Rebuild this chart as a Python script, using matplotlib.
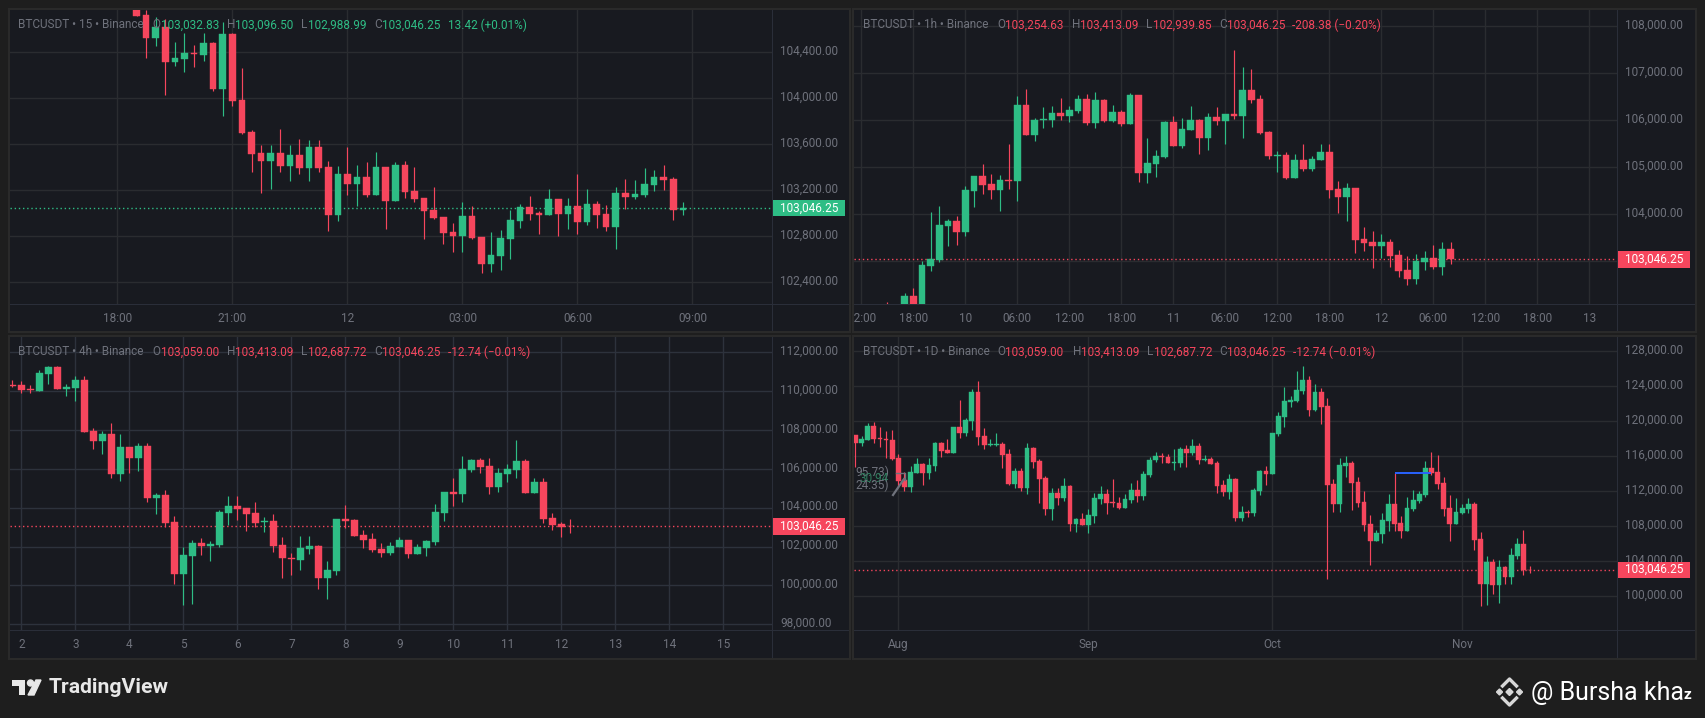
import numpy as np
import matplotlib
matplotlib.use("Agg")
import matplotlib.pyplot as plt
from matplotlib.patches import Rectangle, Polygon, Circle
from matplotlib.transforms import IdentityTransform, Bbox, Affine2D

W, H = 1705, 718
plt.rcParams['font.family'] = ['Roboto', 'DejaVu Sans']

BG = '#1e1e1e'
PANE = '#181a20'
UP = '#2ebd85'
DOWN = '#f6465d'
TXT = '#6f727c'

LAST = 103046.25

#--------------------------------------DATA----------------------------------------------------#

# 15 minute candles, first one is 10 bars before the 21:00 line
m15_start = -10
m15_open = [104830,104725,104525,104620,104316,104342,104394,104377,104481,104081,104559,103985,103707,103524,103455,103524,103412,103507,103394,103577,103403,102985,103342,103255,103316,103159,103403,103107,103420,103194,103133,103029,102968,102838,102803,102977,102794,102559,102629,102777,102933,103055,103003,102985,103125,102994,103064,102925,103081,102994,102881,103177,103142,103159,103246,103316,103299,103032.83]
m15_high = [104860,104771,104707,104690,104490,104568,104464,104568,104490,104664,104565,104264,103725,103594,103594,103733,103594,103646,103638,103638,103455,103412,103577,103420,103446,103533,103403,103446,103455,103403,103133,103229,102968,102916,103099,103064,102794,102838,102855,103029,103081,103151,103020,103212,103125,103133,103342,103212,103107,103072,103229,103299,103290,103394,103377,103420,103316,103096.5]
m15_low = [104719,104351,104455,104029,104281,104229,104272,104325,104064,103846,103933,103690,103359,103177,103211,103359,103281,103342,103281,103359,102846,102933,103159,103064,103142,103159,102864,103107,103133,103098,102777,102951,102733,102664,102664,102777,102481,102490,102507,102603,102872,102942,102820,102985,102803,102864,102820,102898,102872,102846,102690,103038,103125,103142,103194,103203,102942,102988.99]
m15_close = [104719,104525,104620,104316,104351,104394,104388,104481,104081,104559,103977,103698,103516,103455,103524,103412,103507,103394,103577,103394,102985,103342,103255,103316,103159,103403,103107,103420,103185,103124,103020,102959,102829,102803,102977,102785,102559,102638,102785,102942,103055,102994,102985,103125,102994,103064,102925,103081,102985,102881,103177,103142,103168,103255,103316,103290,103029,103046.25]
m15_ticks = [-12, 0, 12, 24, 36, 48]
m15_labels = ['18:00', '21:00', '12', '03:00', '06:00', '09:00']
m15_prices = [102400, 102800, 103200, 103600, 104000, 104400]

# 1 hour candles, index 0 is 18:00 on the 9th
h1_start = -3
h1_open = [102000,101800,101900,102262,101950,102901,103028,103752,103858,103624,104496,104815,104645,104518,104730,104709,106326,105688,106007,106007,106156,106092,106198,106454,105943,106432,105986,106177,105922,106539,104879,105071,105220,105964,105454,105794,106007,105624,106071,105986,106135,106092,106645,106454,105752,105241,105262,104773,105156,104964,105156,105326,104539,104369,104560,103475,103411,103326,103411,103135,102816,102624,102986,103071,102879,103254.63]
h1_high = [102135,102000,102326,102433,103007,104050,104177,103901,103964,104603,104815,105071,104858,104837,105496,106518,106666,106050,106283,106305,106475,106305,106539,106560,106603,106454,106326,106220,106581,106539,105624,105369,105986,106092,106050,106305,106028,106156,106283,106135,107496,107135,107092,106539,105773,105347,105326,105284,105496,105241,105496,105496,104709,104667,104560,103730,103645,103581,103475,103241,103113,103156,103220,103347,103411,103413.09]
h1_low = [101800,101700,101800,101800,101800,102794,102986,103326,103347,103539,104156,104433,104326,104071,104539,104284,105688,105560,105837,105858,106007,105964,106156,105901,105837,105964,105964,105879,105922,104688,104667,104794,105198,105454,105411,105794,105284,105369,105901,105496,106028,105624,106369,105709,105177,104901,104752,104773,104922,104922,105156,104347,104028,103858,103177,103220,102858,103071,102879,102667,102496,102518,102816,102837,102709,102939.85]
h1_close = [101900,101900,102262,101950,102922,103050,103773,103858,103624,104518,104815,104624,104518,104730,104709,106326,105688,106007,106028,106156,106092,106220,106454,105943,106432,105986,106177,105922,106539,104879,105092,105241,105964,105454,105815,106007,105624,106071,105986,106135,106092,106645,106432,105730,105241,105262,104773,105156,104964,105177,105326,104518,104369,104560,103454,103390,103326,103411,103113,102794,102624,103007,103071,102879,103262,103046.25]
h1_ticks = [-6, 0, 6, 12, 18, 24, 30, 36, 42, 48, 54, 60, 66, 72, 78]
h1_labels = ['12:00', '18:00', '10', '06:00', '12:00', '18:00', '11', '06:00', '12:00', '18:00', '12', '06:00', '12:00', '18:00', '13']
h1_prices = [103000, 104000, 105000, 106000, 107000, 108000]

# 4 hour candles, index 0 is the 2nd
h4_start = -1
h4_open = [110324,110324,110119,110017,110888,111247,110119,110170,110581,107965,107453,107811,105760,107145,106581,107196,104478,104632,103247,100581,101504,102170,102017,102068,103709,104068,103965,103709,103247,103298,102068,101401,101299,101863,102017,100376,100735,103402,103350,102581,102376,101863,101658,101966,102325,101607,101915,102222,103710,104786,104684,105966,106479,106171,105043,105761,105966,106428,104735,105299,103453,103145,103059]
h4_high = [110581,110529,110324,111094,111280,111299,110376,110786,110786,108119,107965,108376,107811,107145,107350,107350,104735,104888,103555,101965,102324,102427,102273,103863,104581,104581,103965,104273,103504,103658,102478,101658,102530,102530,102068,101248,103402,104120,103402,102838,102684,102171,102222,102479,102325,102120,102325,104171,104786,105504,106684,106530,106581,106581,106069,106274,107504,106530,105504,105504,103710,103248,103413.09]
h4_low = [110222,109914,109914,110017,110376,110119,109760,109504,107914,107042,106786,105555,105350,105811,105914,104273,103658,102991,100068,98991,99042,101555,101248,101965,103094,103350,102786,102991,102735,101709,100376,100530,100786,101607,99812,99299,100530,102940,102530,101915,101710,101453,101556,101966,101402,101607,101504,102068,103299,104068,104274,105863,105812,104684,104786,105299,105504,104735,104735,103197,102838,102479,102687.72]
h4_close = [110273,110068,110068,110940,111247,110119,110222,110581,107914,107453,107811,105760,107145,106581,107196,104478,104632,103196,100581,101555,102170,102017,102119,103760,104068,103914,103658,103196,103298,102017,101401,101350,101915,102017,100376,100786,103402,103299,102530,102325,101812,101658,102017,102325,101607,101966,102274,103761,104786,104684,106017,106479,106120,105043,105812,106017,106428,104735,105299,103402,103094,102992,103046.25]
h4_ticks = [0, 6, 12, 18, 24, 30, 36, 42, 48, 54, 60, 66, 72, 78]
h4_labels = ['2', '3', '4', '5', '6', '7', '8', '9', '10', '11', '12', '13', '14', '15']
h4_prices = [98000, 100000, 102000, 104000, 106000, 108000, 110000, 112000]

# daily candles, index 0 is 1 Aug
d1_start = -7
d1_open = [118439,117524,117867,119467,118096,117981,117867,115810,113296,112495,114096,115124,114096,114895,117524,116724,116381,119353,118667,120038,123353,118324,117296,117296,117410,116267,112839,114324,112381,116953,115467,113524,109981,111810,111238,112610,108267,108839,108153,109181,111124,111696,110781,110667,110096,111010,112153,111467,113867,115581,116039,115924,115238,115238,116839,116382,117181,115582,115696,115238,112724,111924,113410,108953,109639,109524,112039,114324,113982,118553,120496,122210,122324,123467,124724,121296,123353,121753,112839,110553,114896,115238,113067,110781,108267,106324,107125,108610,110553,108382,107467,109982,110896,111581,114667,114210,112953,110096,108267,109524,109982,110553,106553,101410,103924,101296,103353,102210,104610,105981,103059]
d1_high = [118439,118324,119810,119924,119353,118896,119010,116267,114210,114895,115810,115238,115810,117638,117638,117981,119353,122438,120381,123696,124610,119238,117981,118667,117638,116838,114667,114667,117524,117067,115696,113753,112381,112381,113524,112724,108953,109524,109981,111810,112610,112267,113410,111353,111696,112953,113296,114324,115900,116500,116382,116267,116839,117067,117296,117982,117524,116153,115924,115467,113296,113982,113524,110324,109867,112382,114439,114896,118667,121067,123924,122896,125753,126324,125181,124267,123810,122667,113410,115810,116039,115467,113639,112039,109296,107581,109524,111696,114096,109182,111353,112153,112039,115467,116496,116153,113639,111581,111239,110553,111239,110781,107353,104610,104267,104153,103467,105524,106667,107581,103413.09]
d1_low = [114819,117181,117867,117524,117067,115810,115581,112610,112038,111924,114096,112724,113410,114324,115924,116381,116381,118096,118324,119010,117296,116838,117181,117181,114667,112724,112381,112038,111696,114667,110667,109295,108724,110439,110896,107467,107353,108153,107238,108381,110553,109410,110210,109981,110096,110667,110781,111010,113600,115300,115238,115238,114439,114781,114781,116153,115124,115467,115124,111810,111467,111124,108610,108610,109067,109182,111581,112724,113982,118324,119353,121639,122210,123124,120610,121181,119696,101981,109639,109639,113639,109867,110210,107467,103582,106324,106096,107467,107467,106667,107467,109753,110667,111353,113867,112267,109182,106324,108267,109410,109524,105296,98896,99010,100267,99239,101410,101410,104267,102439,102687.72]
d1_close = [117524,117981,119467,117981,117981,117867,115696,113181,112495,114210,115124,114096,115010,117524,116610,116381,119353,118667,120153,123353,118210,117296,117410,117410,116153,112839,114324,112381,116953,115353,113410,109981,111810,111238,112610,108267,108839,108153,109295,111238,111696,110667,110667,110096,111124,112153,111467,113981,115581,116050,115924,115238,115353,116839,116382,117181,115582,115696,115124,112610,111924,113410,108953,109639,109524,112153,114324,113982,118667,120610,122324,122439,123581,124724,121296,123353,121639,112724,110553,115010,115238,112953,110667,108153,106324,107239,108724,110553,108267,107467,110096,111010,111696,114667,114096,112839,109982,108267,109639,110096,110553,106439,101410,103924,101296,103353,102210,104724,105981,103010,103046.25]
d1_ticks = [0, 31, 61, 92]
d1_labels = ['Aug', 'Sep', 'Oct', 'Nov']
d1_prices = [100000, 104000, 108000, 112000, 116000, 120000, 124000, 128000]
# blue horizontal drawing on the daily pane
ray_days = [81, 87]
ray_price = [114096, 114096]

#--------------------------------------HELPERS-------------------------------------------------#

fig = plt.figure(figsize=(W / 100, H / 100), dpi=100, facecolor=BG)


def rect(x0, y0, x1, y1, color, z=-1):
    fig.add_artist(Rectangle((x0, H - y1), x1 - x0, y1 - y0, transform=IdentityTransform(),
                             facecolor=color, edgecolor='none', zorder=z))


def put(x, y, s, color=TXT, size=8.5, ha='left', z=8, **kw):
    return fig.text(x / W, 1 - y / H, s, color=color, fontsize=size, ha=ha, va='center', zorder=z, **kw)


def pane(left, top, split, base, right, bottom, xlim, ylim, prices, ticks, labels, grid, last_color,
         opens, highs, lows, closes, start, body_px):
    rect(left - 2, top - 2, right + 2, bottom + 2, '#2a2a2a')
    rect(left, top, right, bottom, PANE)
    rect(left, base, right, base + 1, '#2a2e39', z=1)
    rect(split, top, split + 1, bottom, '#2a2e39', z=1)

    ax = fig.add_axes([left / W, 1 - base / H, (split - left) / W, (base - top) / H])
    ax.set_facecolor(PANE)
    for s in ax.spines.values():
        s.set_visible(False)
    ax.set_xlim(xlim)
    ax.set_ylim(ylim)
    ax.grid(True, color=grid, lw=1)
    ax.set_axisbelow(True)

    ax.set_yticks(prices)
    # the label that would sit under the price tag is hidden, as on the real chart
    ytop_last = H - ax.transData.transform((0, LAST))[1]
    ylabels = []
    for p in prices:
        ypx = H - ax.transData.transform((0, p))[1]
        ylabels.append('' if abs(ypx - ytop_last) < 3 else f'{p:,.2f}')
    ax.set_yticklabels(ylabels)
    ax.yaxis.tick_right()
    ax.tick_params(axis='y', length=0, labelcolor=TXT, labelsize=8.5, pad=6)
    for lbl in ax.get_yticklabels():
        lbl.set_transform(lbl.get_transform() + Affine2D().translate(0, 2.5))
    ax.set_xticks(ticks)
    ax.set_xticklabels(labels)
    ax.tick_params(axis='x', length=0, labelcolor=TXT, labelsize=8.5, pad=6)
    for lbl in ax.get_xticklabels():
        lbl.set_clip_box(Bbox.from_extents(left, 0, right, H))
        lbl.set_clip_on(True)

    x = np.arange(len(opens)) + start
    o, h, l, c = map(np.array, (opens, highs, lows, closes))
    colors = np.where(c >= o, UP, DOWN)
    unit = (split - left) / (xlim[1] - xlim[0])
    ax.vlines(x, l, h, colors=colors, lw=0.85, zorder=3)
    ax.bar(x, np.abs(c - o), bottom=np.minimum(o, c), width=body_px / unit, color=colors,
           edgecolor=colors, linewidth=0.3, zorder=4)
    ax.axhline(LAST, color=last_color, lw=1, ls=(0, (1, 2)), zorder=2)

    # last price tag
    rect(split + 1, ytop_last - 8, split + 73, ytop_last + 8.5, last_color, z=6)
    put(split + 8, ytop_last, f'{LAST:,.2f}', color='white', z=7)
    return ax


def legend(x0, y, name, xs, vals, change, color):
    put(x0, y, name)
    for xv, letter, gap, v in zip(xs, 'OHLC', (8.5, 8.3, 7.3, 7.8), vals):
        put(xv, y, letter)
        put(xv + gap, y, v, color=color)
    put(xs[3] + 73.5, y, change, color=color)


#--------------------------------------PANES---------------------------------------------------#

pane(10, 10, 772, 304, 849, 331, (-23.2, 56.3), (102211, 104768), m15_prices, m15_ticks, m15_labels,
     '#2a2c30', UP, m15_open, m15_high, m15_low, m15_close, m15_start, 6.6)
legend(18, 25, 'BTCUSDT • 15 • Binance', (152, 226.6, 301, 374),
       ('103,032.83', '103,096.50', '102,988.99', '103,046.25'), '13.42 (+0.01%)', UP)

pane(854, 10, 1617, 304, 1695, 331, (-6.84, 81.2), (102091, 108347), h1_prices, h1_ticks, h1_labels,
     '#2a2c30', DOWN, h1_open, h1_high, h1_low, h1_close, h1_start, 6.6)
legend(863, 25, 'BTCUSDT • 1h • Binance', (997, 1072, 1146, 1219),
       ('103,254.63', '103,413.09', '102,939.85', '103,046.25'), '-208.38 (−0.20%)', DOWN)

pane(10, 337, 772, 630, 849, 658, (-1.26, 83.4), (97708, 112785), h4_prices, h4_ticks, h4_labels,
     '#2d323c', DOWN, h4_open, h4_high, h4_low, h4_close, h4_start, 6.6)
legend(18, 352, 'BTCUSDT • 4h • Binance', (152, 226.6, 301, 374),
       ('103,059.00', '103,413.09', '102,687.72', '103,046.25'), '-12.74 (−0.01%)', DOWN)

ax4 = pane(854, 337, 1617, 630, 1695, 658, (-7.23, 117.27), (96148, 129635), d1_prices, d1_ticks, d1_labels,
           '#2a2c30', DOWN, d1_open, d1_high, d1_low, d1_close, d1_start, 4.8)
ax4.plot(ray_days, ray_price, color='#2962ff', lw=1.4, zorder=5, solid_capstyle='butt')
legend(863, 352, 'BTCUSDT • 1D • Binance', (997, 1072.5, 1146.6, 1219.7),
       ('103,059.00', '103,413.09', '102,687.72', '103,046.25'), '-12.74 (−0.01%)', DOWN)

# faded leftovers of a drawing near the left edge of the daily pane
put(855, 472, '95.73)', size=8.5)
put(859, 479, '30:94', color='#2f7d5e', size=8.5)
put(855, 485, '24:35)', size=8.5)
fig.add_artist(plt.Line2D([893, 904], [H - 495, H - 479], transform=IdentityTransform(),
                          color='#6f727c', lw=1.6, zorder=7))
fig.add_artist(plt.Line2D([896, 905, 905], [H - 473, H - 473, H - 480], transform=IdentityTransform(),
                          color='#6f727c', lw=1.0, zorder=7))

#--------------------------------------BRANDING------------------------------------------------#

rect(12, 680, 25, 686, '#e8e8e8', z=3)
rect(19, 680, 25, 695, '#e8e8e8', z=3)
fig.add_artist(Circle((30.5, H - 683), 3, transform=IdentityTransform(), color='#e8e8e8', zorder=3))
fig.add_artist(Polygon([(34, H - 695), (41, H - 680), (36, H - 680), (28, H - 695)],
                       transform=IdentityTransform(), color='#e8e8e8', zorder=3))
put(49, 687.5, 'TradingView', color='#e8e8e8', size=15.2, weight='bold')

# binance mark
cx, cy = 1509.5, 692
for dx, dy, r in ((0, 0, 3.5), (-10, 0, 3), (10, 0, 3)):
    fig.add_artist(Polygon([(cx + dx - r, H - cy - dy), (cx + dx, H - cy - dy + r),
                            (cx + dx + r, H - cy - dy), (cx + dx, H - cy - dy - r)],
                           transform=IdentityTransform(), color='#d8d8d8', zorder=3))
for sign in (1, -1):
    fig.add_artist(plt.Line2D([cx - 7, cx, cx + 7],
                              [H - cy + sign * 6, H - cy + sign * 13, H - cy + sign * 6],
                              transform=IdentityTransform(), color='#d8d8d8', lw=2.4, zorder=3))
put(1531, 693, '@ Bursha kha', color='white', size=18)
put(1684, 695, 'z', color='white', size=11, weight='bold')

fig.savefig('out.png', dpi=100, facecolor=BG)
